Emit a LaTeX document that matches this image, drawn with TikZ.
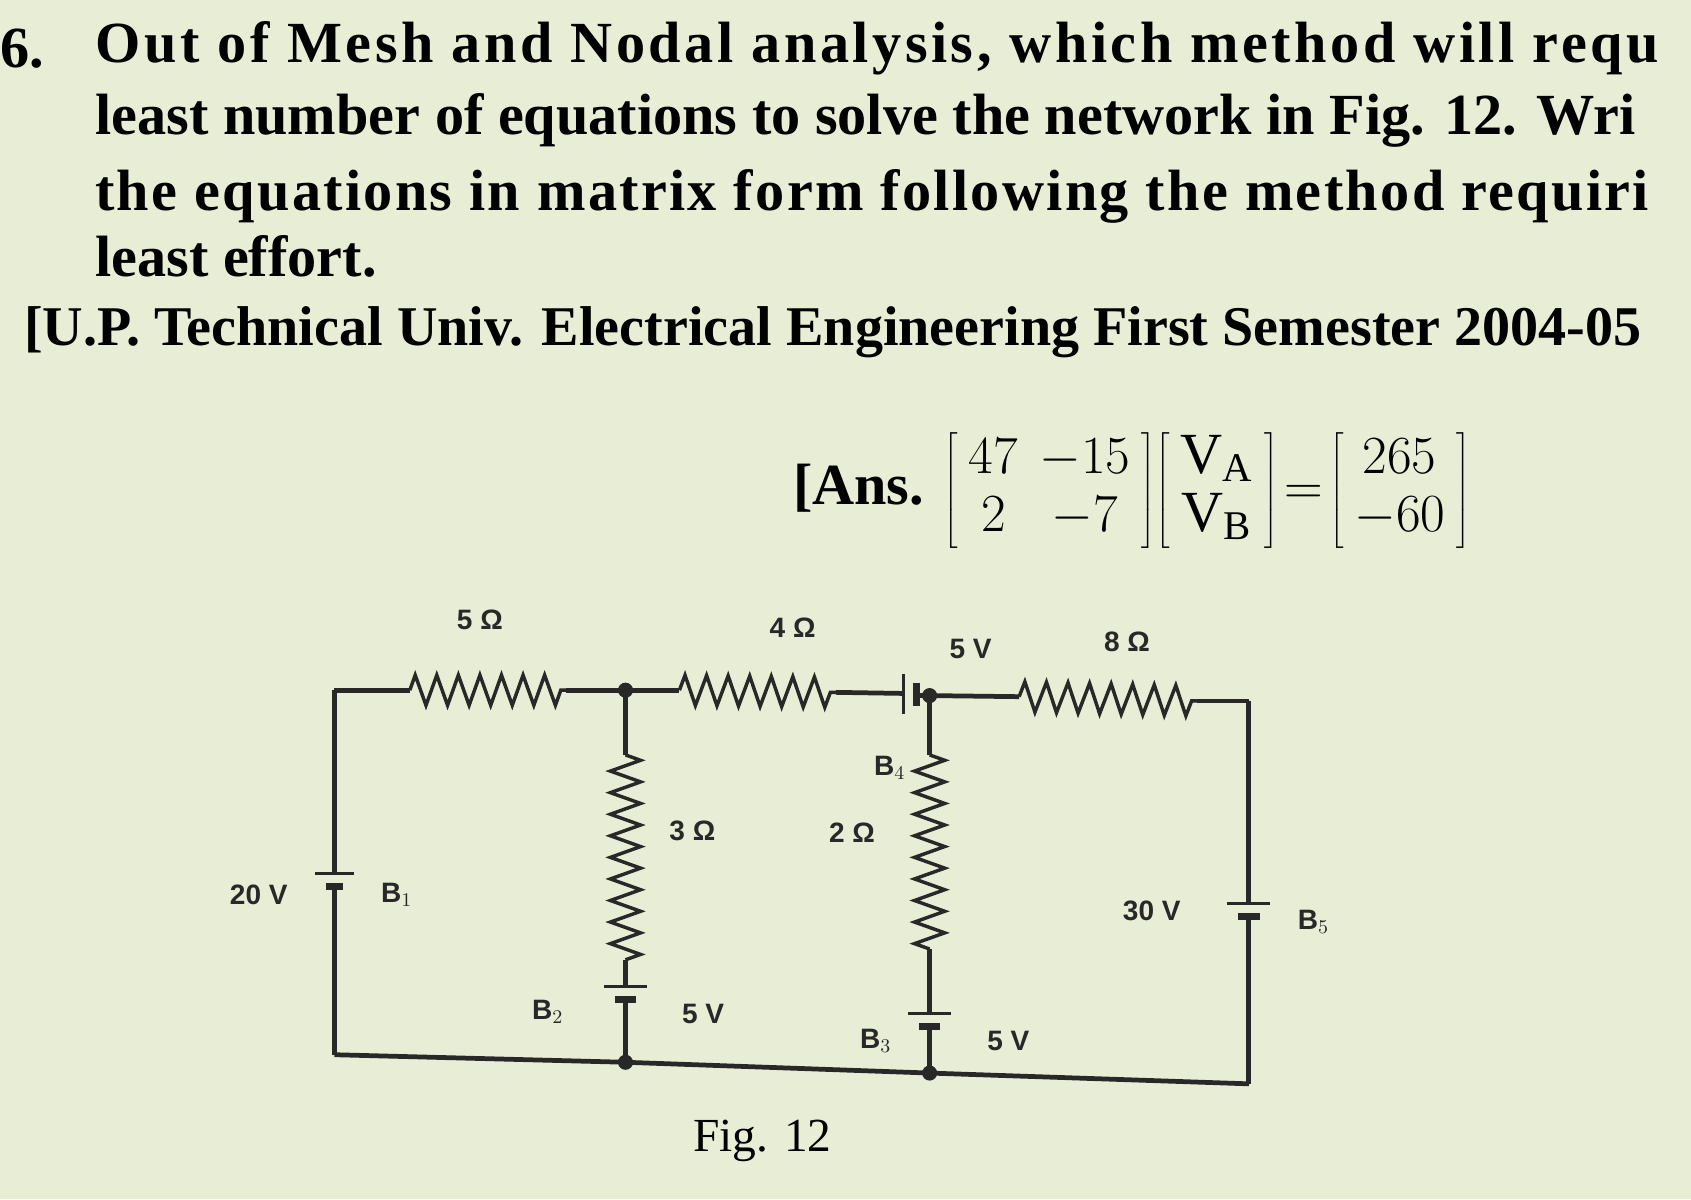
\documentclass[tikz,border=0pt]{standalone}
\usepackage{fontspec}
\setmainfont{Liberation Serif}
\newfontfamily\sfont{Liberation Sans}
\usetikzlibrary{decorations.pathmorphing}
\definecolor{paper}{RGB}{232,238,214}
\definecolor{ink}{RGB}{40,40,40}
\tikzset{
  wire/.style={line width=2.2pt,ink},
  res/.style={line width=1.6pt,ink,decorate,decoration={zigzag,segment length=10pt,amplitude=7pt}},
  txt/.style={anchor=west,inner sep=0pt,font=\fontsize{27}{27}\selectfont\bfseries},
  lab/.style={inner sep=1pt,font=\sfont\fontsize{13}{13}\selectfont\bfseries,ink},
  dot/.style={circle,fill=ink,inner sep=0pt,minimum size=7pt}
}
\begin{document}
\begin{tikzpicture}[x=0.5pt,y=-0.5pt]
\fill[paper] (0,0) rectangle (1568,1112);
\useasboundingbox (0,0) rectangle (1568,1112);
\node[txt] (t0) at (0,45) {6.};
\node[txt,font=\fontsize{27}{27}\selectfont\bfseries\addfontfeatures{LetterSpace=6}] (t1) at (88,45) {Out of Mesh and Nodal analysis, which method will requ};
\node[txt] (t2) at (88,112) {least number of equations to solve the network in Fig. 12. Wri};
\node[txt,font=\fontsize{27}{27}\selectfont\bfseries\addfontfeatures{LetterSpace=4}] (t3) at (88,182) {the equations in matrix form following the method requiri};
\node[txt] (t4) at (88,238) {least effort.};
\node[txt,font=\fontsize{26}{26}\selectfont\bfseries] (t5) at (22,308) {[U.P. Technical Univ. Electrical Engineering First Semester 2004-05};
\node[anchor=west,inner sep=0pt,font=\fontsize{27}{27}\selectfont] (ans) at (735,455)
 {\textbf{[Ans.} $\left[\begin{array}{cc}47&-15\\2&-7\end{array}\right]\!\left[\begin{array}{c}\mathrm{V_A}\\\mathrm{V_B}\end{array}\right]\!=\!\left[\begin{array}{c}265\\-60\end{array}\right]$};
% coordinates
\coordinate (tl) at (310,640);
\coordinate (A) at (580,640);
\coordinate (B) at (862,645);
\coordinate (tr) at (1158,650);
\coordinate (bl) at (310,978);
\coordinate (bA) at (580,985);
\coordinate (bB) at (862,995);
\coordinate (br) at (1158,1005);
% left branch with B1
\draw[wire] (tl) -- (310,810) (310,832) -- (bl);
\draw[line width=1.5pt,ink] (292,810) -- (328,810);
\draw[line width=3.5pt,ink] (302,822) -- (318,822);
\draw[wire] (310,822) -- (310,832);
% top
\draw[wire] (tl) -- (380,640);
\draw[res] (380,640) -- (525,640);
\draw[wire] (525,640) -- (A) -- (630,640);
\draw[res] (630,640) -- (775,642);
\draw[wire] (775,642) -- (838,643);
\draw[line width=1.5pt,ink] (838,625) -- (838,662);
\draw[line width=3.5pt,ink] (850,633) -- (850,655);
\draw[wire] (850,645) -- (B) -- (945,646);
\draw[res] (945,646) -- (1110,650);
\draw[wire] (1110,650) -- (tr);
% middle branch 3 ohm + B2
\draw[wire] (A) -- (580,700);
\draw[res] (580,700) -- (580,890);
\draw[wire] (580,890) -- (580,915);
\draw[line width=1.5pt,ink] (560,915) -- (600,915);
\draw[line width=3.5pt,ink] (570,927) -- (590,927);
\draw[wire] (580,927) -- (bA);
% branch 2 ohm + B3
\draw[wire] (B) -- (862,700);
\draw[res] (862,700) -- (862,880);
\draw[wire] (862,880) -- (862,940);
\draw[line width=1.5pt,ink] (842,940) -- (882,940);
\draw[line width=3.5pt,ink] (852,952) -- (872,952);
\draw[wire] (862,952) -- (bB);
% right branch B5
\draw[wire] (tr) -- (1158,838);
\draw[line width=1.5pt,ink] (1138,838) -- (1178,838);
\draw[line width=3.5pt,ink] (1148,850) -- (1168,850);
\draw[wire] (1158,850) -- (br);
% bottom
\draw[wire] (bl) -- (bA) -- (bB) -- (br);
\node[dot] (dA) at (A) {};
\node[dot] (dB) at (B) {};
\node[dot] (dbA) at (bA) {};
\node[dot] (dbB) at (bB) {};
% labels
\node[lab] (l1) at (445,575) {5 Ω};
\node[lab] (l2) at (735,582) {4 Ω};
\node[lab] (l3) at (900,602) {5 V};
\node[lab] (l4) at (1045,595) {8 Ω};
\node[lab] (l5) at (825,712) {B$_4$};
\node[lab] (l6) at (642,770) {3 Ω};
\node[lab] (l7) at (790,772) {2 Ω};
\node[lab] (l8) at (240,830) {20 V};
\node[lab] (l9) at (368,830) {B$_1$};
\node[lab] (l10) at (1068,845) {30 V};
\node[lab] (l11) at (1218,855) {B$_5$};
\node[lab] (l12) at (508,938) {B$_2$};
\node[lab] (l13) at (652,940) {5 V};
\node[lab] (l14) at (812,965) {B$_3$};
\node[lab] (l15) at (935,965) {5 V};
\node[font=\fontsize{22}{22}\selectfont] (fig) at (707,1058) {Fig. 12};
\end{tikzpicture}
\end{document}
